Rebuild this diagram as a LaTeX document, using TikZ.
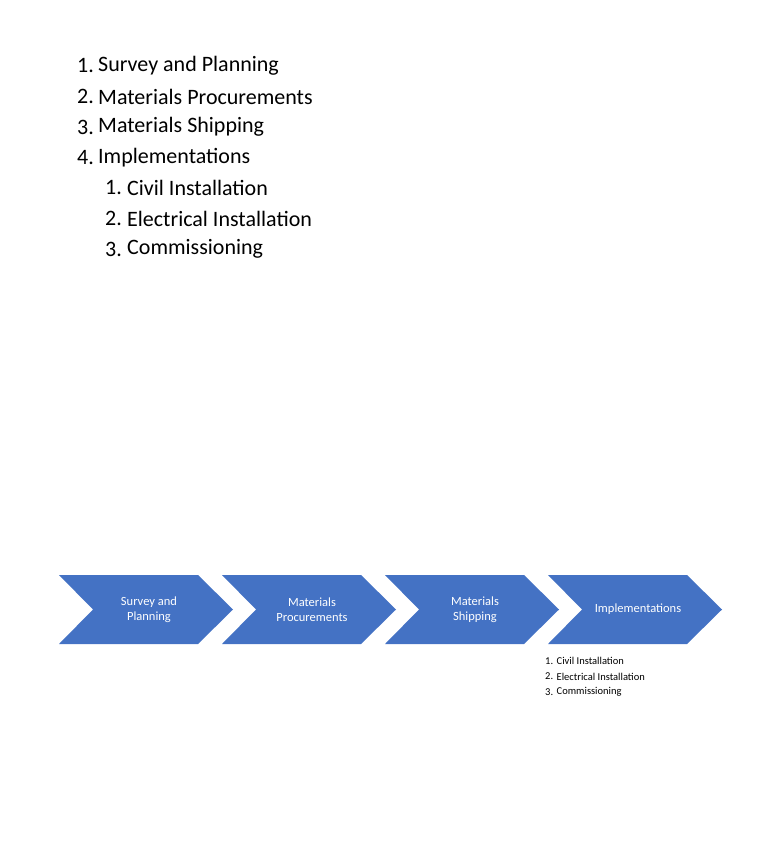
\documentclass[tikz,border=0pt]{standalone}
\usepackage{fontspec}
\setmainfont{Carlito}
\definecolor{cblue}{HTML}{4472C4}
\begin{document}
\begin{tikzpicture}[x=1pt,y=-1pt,
  chev/.style={fill=cblue,draw=none},
  ctext/.style={text=white,font=\fontsize{12.5}{15}\selectfont,align=center},
  big/.style={anchor=west,font=\fontsize{22}{26}\selectfont,inner sep=0},
  small/.style={anchor=west,font=\fontsize{10.5}{12}\selectfont,inner sep=0}]
\useasboundingbox (0,0) rectangle (768,866);
\foreach \i/\t in {0/{Survey and\\Planning},1/{Materials\\Procurements},2/{Materials\\Shipping},3/{Implementations}}{
  \pgfmathsetmacro{\x}{59+163*\i}
  \fill[chev] (\x,575) -- ++(139,0) -- ++(35,34.5) -- ++(-35,34.5) -- ++(-139,0) -- ++(34,-34.5) -- cycle;
  \node[ctext] (c\i) at (\x+90,609.5) {\t};
}
\foreach \n/\y/\t in {1/66/Survey and Planning,2/96.5/Materials Procurements,3/127/Materials Shipping,4/157.5/Implementations}{
  \node[big] (n\n) at (77,\y) {\n.};
  \node[big] (t\n) at (98,\y) {\t};
}
\foreach \n/\y/\t in {1/188/Civil Installation,2/218.5/Electrical Installation,3/249/Commissioning}{
  \node[big] (s\n) at (105,\y) {\n.};
  \node[big] (u\n) at (127,\y) {\t};
}
\foreach \n/\y/\t in {1/661/Civil Installation,2/676.5/Electrical Installation,3/692/Commissioning}{
  \node[small] (m\n) at (545,\y) {\n.};
  \node[small] (v\n) at (556.5,\y) {\t};
}
\end{tikzpicture}
\end{document}
